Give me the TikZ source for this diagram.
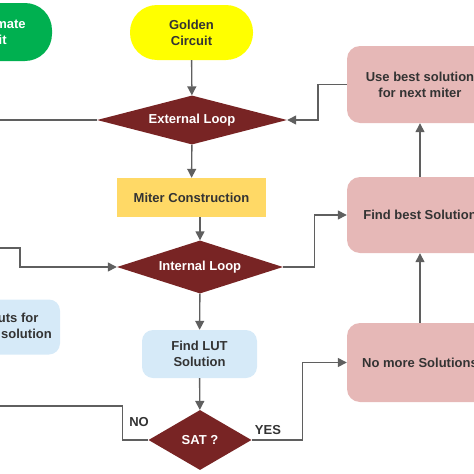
\documentclass[tikz,border=0pt]{standalone}
\usepackage{fontspec}
\setmainfont{Liberation Sans}
\usetikzlibrary{shapes.geometric,arrows.meta}
\definecolor{pillgreen}{HTML}{00B050}
\definecolor{pillyellow}{HTML}{FFFF00}
\definecolor{loopred}{HTML}{782424}
\definecolor{mitergold}{HTML}{FFD966}
\definecolor{stepblue}{HTML}{D6EAF8}
\definecolor{steppink}{HTML}{E6B8B7}
\definecolor{linegray}{HTML}{5F5F5F}
\definecolor{textgray}{HTML}{333333}
\begin{document}
\begin{tikzpicture}[
	                 x = 1pt,
	                 y = -1pt,
	   every node/.style = {font=\bfseries\fontsize{13}{16}\selectfont, align=center, inner sep=0pt, text=textgray},
	     pillbox/.style = {rectangle, rounded corners=27pt},
	    loopdiam/.style = {diamond, fill=loopred, text=white},
	    stepbox/.style = {rectangle, rounded corners=11pt, fill=stepblue},
	   resultbox/.style = {rectangle, rounded corners=13pt, fill=steppink},
	         arr/.style = {draw=linegray, line width=1.4pt, -{Triangle[length=9pt,width=9pt]}},
	        wire/.style = {draw=linegray, line width=1.4pt},
	                     ]
	    \useasboundingbox (0,0) rectangle (474,474);
		% start circuits
		\node[pillbox, fill=pillgreen, text=white, minimum width=132, minimum height=58] (approx) at (-14,32) {Approximate\\Circuit};
		\node[pillbox, fill=pillyellow, minimum width=123, minimum height=55] (golden) at (191.5,32.5) {Golden\\Circuit};
		% loops and steps
		\node[loopdiam, aspect=3.88, minimum width=190, minimum height=49] (ext) at (192,120) {External Loop};
		\node[rectangle, fill=mitergold, minimum width=149, minimum height=39] (miter) at (191.5,197.5) {Miter Construction};
		\node[loopdiam, aspect=3.13, minimum width=166, minimum height=53] (int) at (200,267) {Internal Loop};
		\node[stepbox, minimum width=140, minimum height=55] (store) at (-10,327) {Store inputs for\\the optimal solution};
		\node[stepbox, minimum width=115, minimum height=48] (lut) at (199.5,354) {Find LUT\\Solution};
		\node[loopdiam, aspect=1.72, minimum width=103, minimum height=60] (sat) at (200,440) {SAT ?};
		% results
		\node[resultbox, minimum width=146, minimum height=77] (usebest) at (420,84.5) {Use best solution\\for next miter};
		\node[resultbox, minimum width=146, minimum height=76] (findbest) at (420,215) {Find best Solution};
		\node[resultbox, minimum width=146, minimum height=79] (nomore) at (420,362.5) {No more Solutions};
		\node (no) at (139,422) {NO};
		\node (yes) at (268,430) {YES};
		% off-picture ends
		\coordinate (extl) at (-20,120);
		\coordinate (intl) at (-20,248);
		\coordinate (nol) at (-20,406);
		% connectors
		\draw[arr] (golden) -- (ext);
		\draw[arr] (ext) -- (miter);
		\draw[arr] (miter.south -| int.north) -- (int.north);
		\draw[arr] (int) -- (lut);
		\draw[arr] (lut) -- (sat);
		\draw[wire] (ext.west) -- (extl);
		\draw[arr] (intl) -- ++(40,0) |- (int.west);
		\draw[arr] (usebest.west) -- ++(-29,0) |- (ext.east);
		\draw[arr] (int.east) -- ++(31,0) |- (findbest.west);
		\draw[arr] (sat.east) -- ++(51,0) |- (nomore.west);
		\draw[wire] (sat.west) -- ++(-26,0) |- (nol);
		\draw[arr] (findbest) -- (usebest);
		\draw[arr] (nomore) -- (findbest);
	\end{tikzpicture}
\end{document}
